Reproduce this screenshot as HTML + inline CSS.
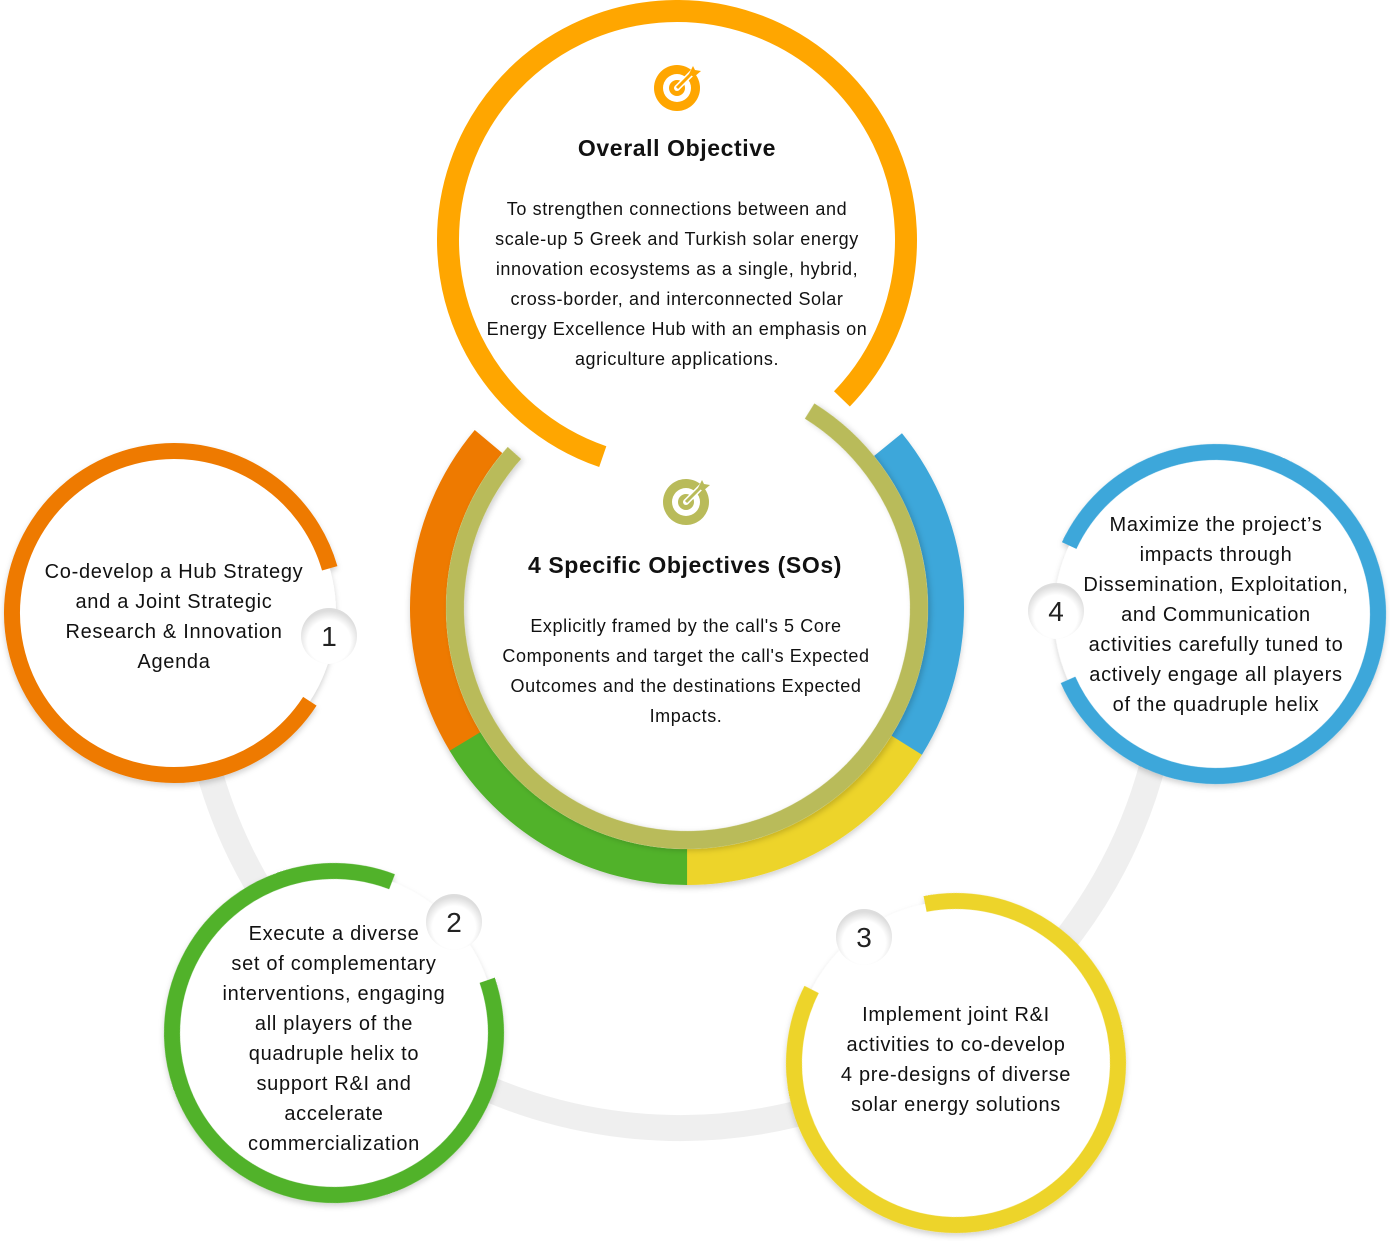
<!DOCTYPE html>
<html><head><meta charset="utf-8"><style>
html,body{margin:0;padding:0;background:#fff}
svg{display:block}
text{font-family:"Liberation Sans",Arial,sans-serif;fill:#111;text-anchor:middle}
.b{font-size:18px;letter-spacing:0.6px}
.s{font-size:20px;letter-spacing:0.7px}
.n{font-size:28px;fill:#222}
.t{font-size:23px;font-weight:bold;letter-spacing:0.6px}
</style></head><body>
<svg width="1390" height="1241" viewBox="0 0 1390 1241" xmlns="http://www.w3.org/2000/svg">
<defs>
<filter id="sh" x="-20%" y="-20%" width="140%" height="140%"><feDropShadow dx="0" dy="3" stdDeviation="3" flood-color="#000" flood-opacity="0.18"/></filter>
<radialGradient id="bg" cx="50%" cy="60%" r="55%"><stop offset="70%" stop-color="#fff"/><stop offset="100%" stop-color="#ddd"/></radialGradient>
</defs>
<circle cx="680" cy="639" r="489" fill="none" stroke="#efefef" stroke-width="26" pathLength="360" stroke-dasharray="164 196" transform="rotate(8 680 639)"/>

<g filter="url(#sh)">
<circle cx="687" cy="608" r="259" fill="none" stroke="#EE7A05" stroke-width="36" pathLength="360" stroke-dasharray="71 289" transform="rotate(149 687 608)"/>
<circle cx="687" cy="608" r="259" fill="none" stroke="#51B22C" stroke-width="36" pathLength="360" stroke-dasharray="59 301" transform="rotate(90 687 608)"/>
<circle cx="687" cy="608" r="259" fill="none" stroke="#EDD42C" stroke-width="36" pathLength="360" stroke-dasharray="58 302" transform="rotate(32 687 608)"/>
<circle cx="687" cy="608" r="259" fill="none" stroke="#3DA7DA" stroke-width="36" pathLength="360" stroke-dasharray="71 289" transform="rotate(321 687 608)"/>
</g>
<circle cx="687" cy="608" r="241" fill="#fff"/>
<circle cx="687" cy="608" r="232" fill="none" stroke="#B9BB5A" stroke-width="18" pathLength="360" stroke-dasharray="280 80" transform="rotate(302 687 608)" filter="url(#sh)"/>

<circle cx="677" cy="240" r="229" fill="none" stroke="#FFA600" stroke-width="22" pathLength="360" stroke-dasharray="295 65" transform="rotate(109 677 240)"/>

<g filter="url(#sh)">
<circle cx="174" cy="613" r="162" fill="#fff" stroke="#EE7A05" stroke-width="16" pathLength="360" stroke-dasharray="311 49" transform="rotate(33 174 613)"/>
<circle cx="334" cy="1033" r="162" fill="#fff" stroke="#51B22C" stroke-width="16" pathLength="360" stroke-dasharray="310 50" transform="rotate(341 334 1033)"/>
<circle cx="956" cy="1063" r="162" fill="#fff" stroke="#EDD42C" stroke-width="16" pathLength="360" stroke-dasharray="308 52" transform="rotate(259 956 1063)"/>
<circle cx="1216" cy="614" r="162" fill="#fff" stroke="#3DA7DA" stroke-width="16" pathLength="360" stroke-dasharray="311 49" transform="rotate(205 1216 614)"/>
</g>

<g>
<circle cx="329" cy="636" r="28" fill="url(#bg)"/><text class="n" x="329" y="646">1</text>
<circle cx="454" cy="922" r="28" fill="url(#bg)"/><text class="n" x="454" y="932">2</text>
<circle cx="864" cy="937" r="28" fill="url(#bg)"/><text class="n" x="864" y="947">3</text>
<circle cx="1056" cy="611" r="28" fill="url(#bg)"/><text class="n" x="1056" y="621">4</text>
</g>

<g transform="translate(677,88)">
<circle r="23" fill="#FFA600"/><circle r="14" fill="#fff"/><circle r="8" fill="#FFA600"/><circle r="3" fill="#fff"/>
<line x1="0" y1="0" x2="16" y2="-16" stroke="#fff" stroke-width="6"/><line x1="0" y1="0" x2="16" y2="-16" stroke="#FFA600" stroke-width="3"/>
<path d="M12,-14 L16,-22 L18,-18 L24,-17 L17,-11 Z" fill="#FFA600"/>
</g>
<g transform="translate(686,502)">
<circle r="23" fill="#B9BB5A"/><circle r="14" fill="#fff"/><circle r="8" fill="#B9BB5A"/><circle r="3" fill="#fff"/>
<line x1="0" y1="0" x2="16" y2="-16" stroke="#fff" stroke-width="6"/><line x1="0" y1="0" x2="16" y2="-16" stroke="#B9BB5A" stroke-width="3"/>
<path d="M12,-14 L16,-22 L18,-18 L24,-17 L17,-11 Z" fill="#B9BB5A"/>
</g>

<text class="t" x="677" y="156">Overall Objective</text>
<text class="b" x="677" y="215">To strengthen connections between and</text>
<text class="b" x="677" y="245">scale-up 5 Greek and Turkish solar energy</text>
<text class="b" x="677" y="275">innovation ecosystems as a single, hybrid,</text>
<text class="b" x="677" y="305">cross-border, and interconnected Solar</text>
<text class="b" x="677" y="335">Energy Excellence Hub with an emphasis on</text>
<text class="b" x="677" y="365">agriculture applications.</text>

<text class="t" x="685" y="573">4 Specific Objectives (SOs)</text>
<text class="b" x="686" y="632">Explicitly framed by the call's 5 Core</text>
<text class="b" x="686" y="662">Components and target the call's Expected</text>
<text class="b" x="686" y="692">Outcomes and the destinations Expected</text>
<text class="b" x="686" y="722">Impacts.</text>

<text class="s" x="174" y="578">Co-develop a Hub Strategy</text>
<text class="s" x="174" y="608">and a Joint Strategic</text>
<text class="s" x="174" y="638">Research &amp; Innovation</text>
<text class="s" x="174" y="668">Agenda</text>

<text class="s" x="334" y="940">Execute a diverse</text>
<text class="s" x="334" y="970">set of complementary</text>
<text class="s" x="334" y="1000">interventions, engaging</text>
<text class="s" x="334" y="1030">all players of the</text>
<text class="s" x="334" y="1060">quadruple helix to</text>
<text class="s" x="334" y="1090">support R&amp;I and</text>
<text class="s" x="334" y="1120">accelerate</text>
<text class="s" x="334" y="1150">commercialization</text>

<text class="s" x="956" y="1021">Implement joint R&amp;I</text>
<text class="s" x="956" y="1051">activities to co-develop</text>
<text class="s" x="956" y="1081">4 pre-designs of diverse</text>
<text class="s" x="956" y="1111">solar energy solutions</text>

<text class="s" x="1216" y="531">Maximize the project’s</text>
<text class="s" x="1216" y="561">impacts through</text>
<text class="s" x="1216" y="591">Dissemination, Exploitation,</text>
<text class="s" x="1216" y="621">and Communication</text>
<text class="s" x="1216" y="651">activities carefully tuned to</text>
<text class="s" x="1216" y="681">actively engage all players</text>
<text class="s" x="1216" y="711">of the quadruple helix</text>
</svg>
</body></html>
